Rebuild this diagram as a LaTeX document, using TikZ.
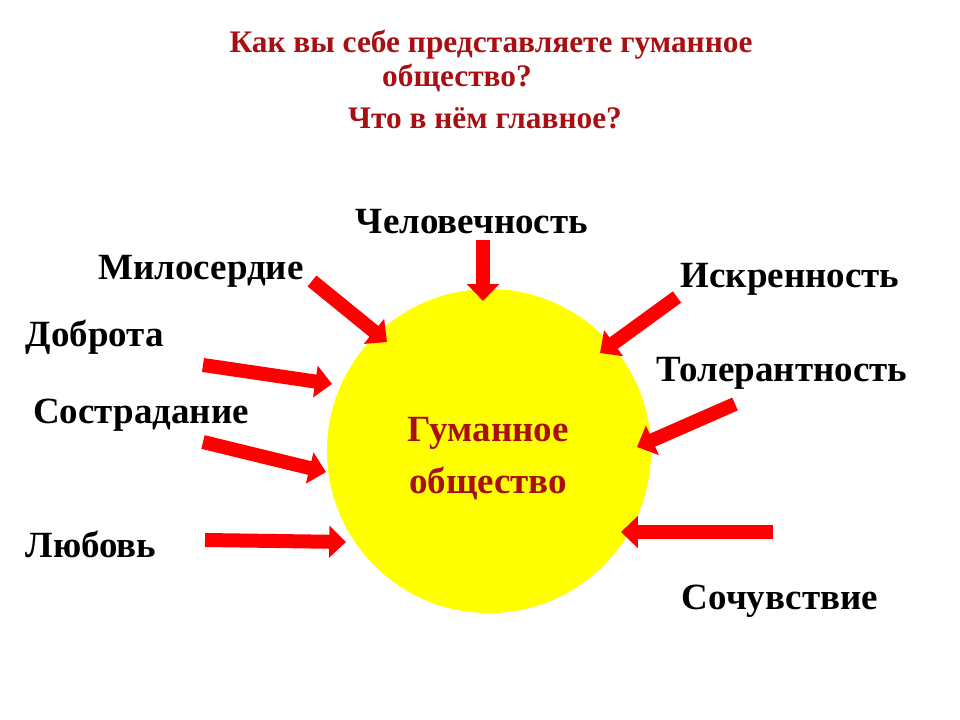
\documentclass[tikz,border=0pt]{standalone}
\usepackage{fontspec}
\setmainfont{Liberation Serif}
\usetikzlibrary{arrows.meta}
\definecolor{titlered}{RGB}{168,14,18}
\definecolor{sunyellow}{RGB}{255,255,0}
\definecolor{arrowred}{RGB}{255,0,0}
\begin{document}
\begin{tikzpicture}[x=0.025cm,y=-0.025cm,
  quality/.style={font=\fontsize{26.3}{30}\selectfont\bfseries,text=black},
  question/.style={font=\fontsize{22.3}{26}\selectfont\bfseries,text=titlered},
  pointer/.style={arrowred,line width=0.35cm,-{Triangle[width=0.78cm,length=0.42cm]}}]
\useasboundingbox (0,0) rectangle (960,720);

% title
\node[question] (q1) at (491,45) {Как вы себе представляете гуманное};
\node[question] (q2) at (457,78) {общество?};
\node[question] (q3) at (485,118) {Что в нём главное?};

% the sun
\node[circle,fill=sunyellow,minimum size=8.1cm,inner sep=0pt] (sun) at (489,451) {};
\node[font=\fontsize{26.3}{37}\selectfont\bfseries,text=titlered,align=center] (society) at (488,459) {Гуманное\\общество};

% qualities
\node[quality] (chel) at (472,222) {Человечность};
\node[quality] (milo) at (201,271) {Милосердие};
\node[quality] (dobr) at (95,337) {Доброта};
\node[quality] (sost) at (141,415) {Сострадание};
\node[quality] (lyub) at (91,544) {Любовь};
\node[quality] (iskr) at (790,279) {Искренность};
\node[quality] (tole) at (782,373) {Толерантность};
\node[quality] (sochu) at (780,601) {Сочувствие};

% arrow tails and tips
\foreach \nm/\tx/\ty/\hx/\hy in {chel/483/240/483/301, milo/312/281/387/342,
  dobr/203/365/332/384, sost/203/442/326/472, lyub/205/540/346/542,
  iskr/677/297/600/353, tole/735/404/637/447, sochu/773/532/621/532}
{
  \coordinate (\nm-tail) at (\tx,\ty);
  \coordinate (\nm-tip) at (\hx,\hy);
  \draw[pointer] (\nm-tail) -- (\nm-tip);
}
\end{tikzpicture}
\end{document}
